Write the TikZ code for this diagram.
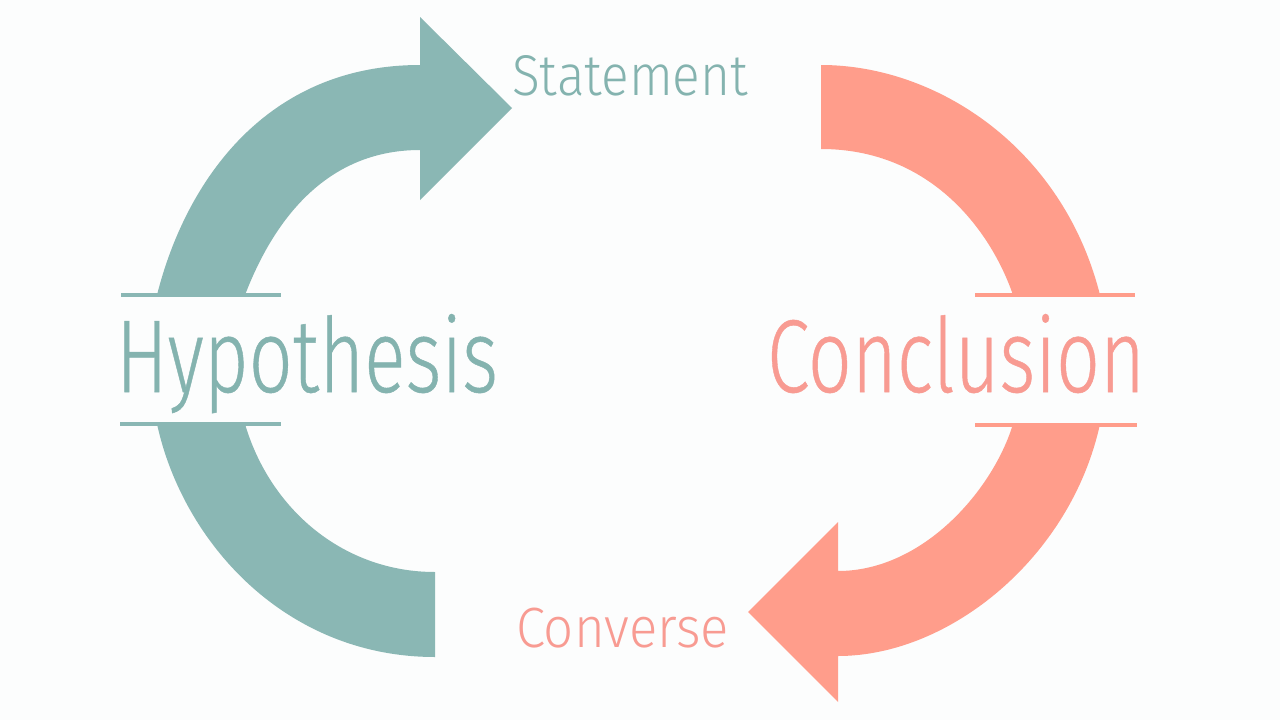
\documentclass[tikz,border=0pt]{standalone}
\usepackage{fontspec}
\setmainfont{Fira Sans Light}
\newfontfamily\bigfont[FakeBold=0.5]{Fira Sans Light}
\definecolor{tealfill}{HTML}{8AB7B4}
\definecolor{salmonfill}{HTML}{FF9D8B}
\definecolor{tealtext}{HTML}{84B3AF}
\definecolor{salmontext}{HTML}{F89B92}
\definecolor{paper}{HTML}{FCFDFD}
\tikzset{
  tealshape/.style={fill=tealfill,draw=none},
  salmonshape/.style={fill=salmonfill,draw=none},
  label/.style={inner sep=0pt,outer sep=0pt,anchor=base west},
}
\begin{document}
\begin{tikzpicture}[x=1pt,y=-1pt]
\useasboundingbox (0,0) rectangle (1280,720);
\fill[paper] (0,0) rectangle (1280,720);
% teal arrow upper
\path[tealshape] (157,295) .. controls (186,180) and (267,65) .. (420,65) -- (420,17) -- (512,108) -- (420,200) -- (420,150) .. controls (325,150) and (273,222) .. (245,295) -- cycle;
% teal lower
\path[tealshape] (157,424) .. controls (183,543) and (286,657) .. (435,657) -- (435,572) .. controls (343,572) and (270,509) .. (245,424) -- cycle;
% salmon upper
\path[salmonshape] (821,65) .. controls (937,65) and (1063,148) .. (1100,295) -- (1013,295) .. controls (991,231) and (931,149) .. (821,149) -- cycle;
% salmon arrow lower
\path[salmonshape] (1100,424) .. controls (1071,557) and (950,656) .. (838,656) -- (838,702) -- (748,612) -- (838,522) -- (838,571) .. controls (923,571) and (993,490) .. (1013,424) -- cycle;
% rules
\path[tealshape] (121,293) rectangle (281,297);
\path[tealshape] (120,422) rectangle (281,426);
\path[salmonshape] (975,293) rectangle (1135,297);
\path[salmonshape] (975,423) rectangle (1137,427);
% labels
\node[label,text=tealtext] (hyp) at (116,392) {\resizebox{382pt}{78pt}{\fontsize{100pt}{100pt}\bigfont Hypothesis}};
\node[label,text=salmontext] (con) at (767,392) {\resizebox{378pt}{78pt}{\fontsize{100pt}{100pt}\bigfont Conclusion}};
\node[label,text=tealtext] (st) at (512,95.5) {\resizebox{236pt}{40pt}{\fontsize{50pt}{50pt}\selectfont Statement}};
\node[label,text=salmontext] (cv) at (516,647) {\resizebox{213pt}{39.5pt}{\fontsize{50pt}{50pt}\selectfont Converse}};
\end{tikzpicture}
\end{document}
